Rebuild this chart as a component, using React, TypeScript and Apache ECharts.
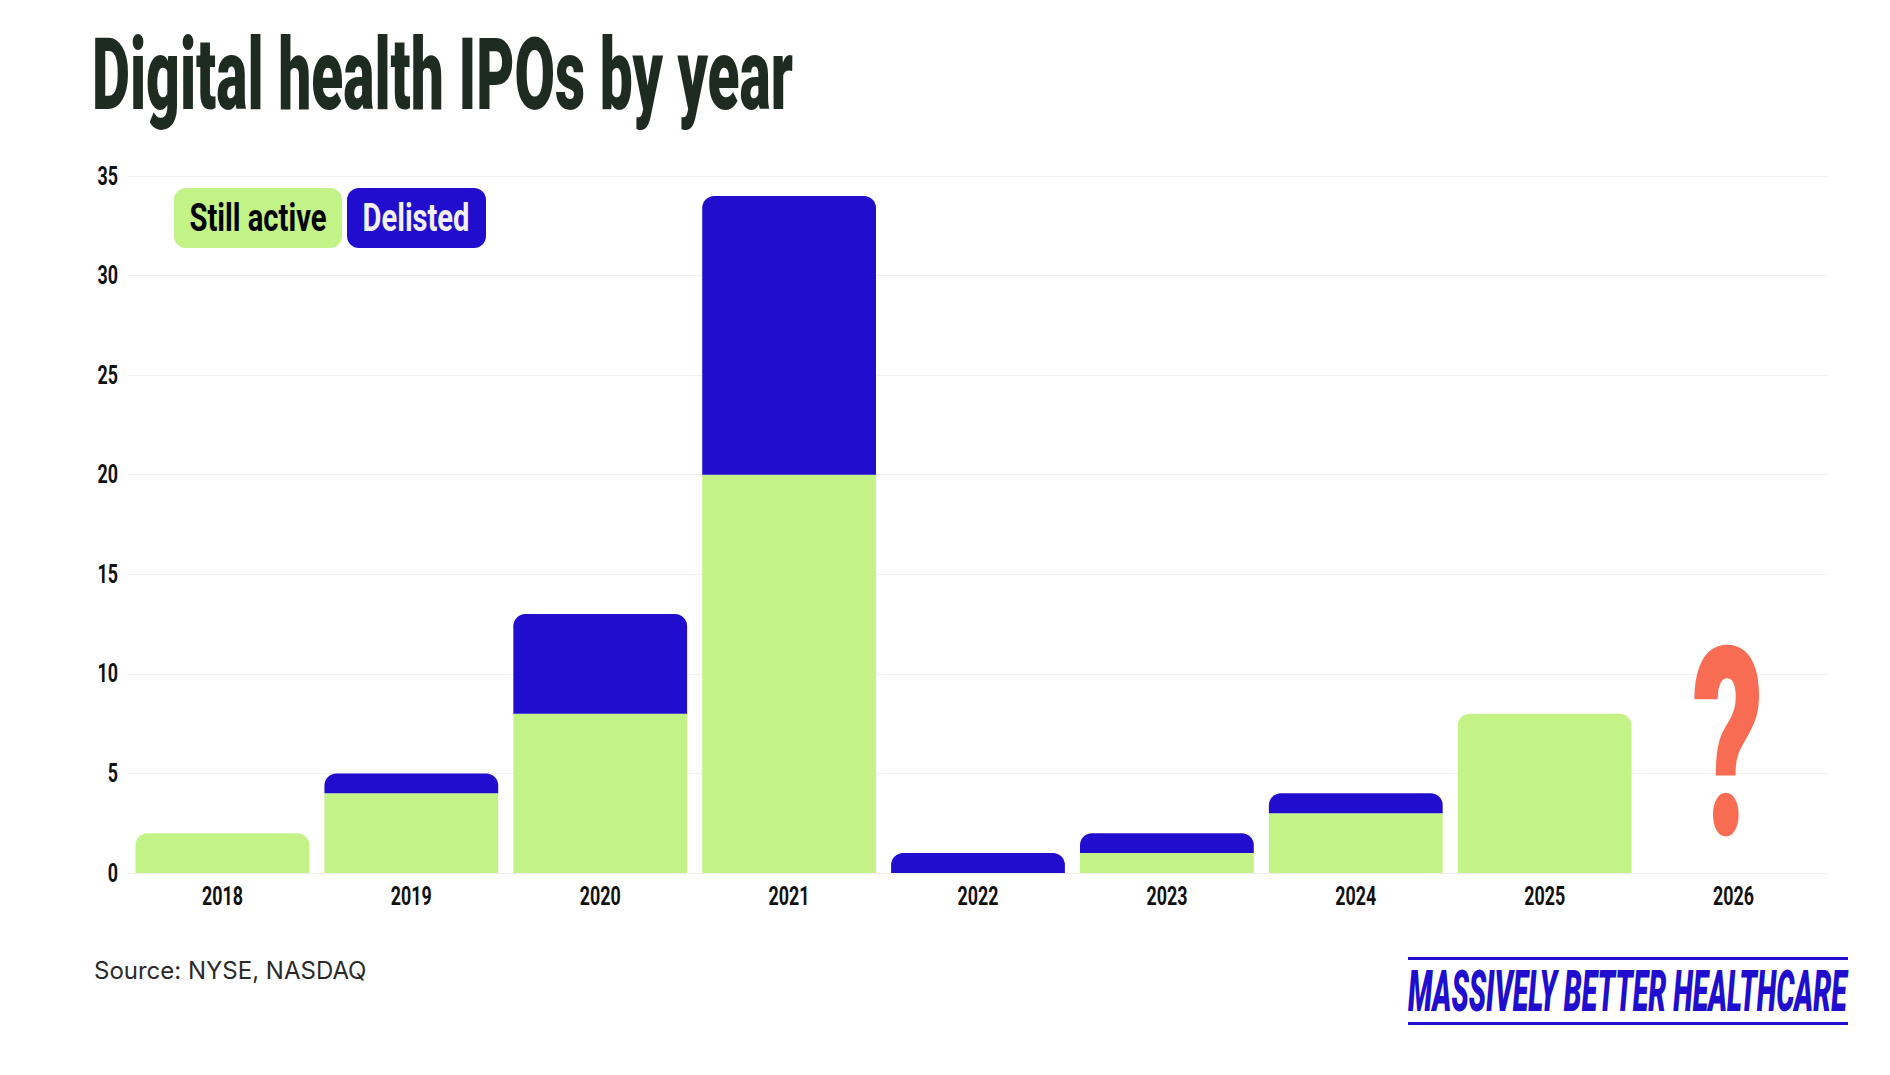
import React, { useEffect, useRef } from "react";
import * as echarts from "echarts";

// IPO counts per listing year, split by current status
const years = ["2018", "2019", "2020", "2021", "2022", "2023", "2024", "2025", "2026"];
const stillActive = [2, 4, 8, 20, 0, 1, 3, 8, 0];
const delisted = [0, 1, 5, 14, 1, 1, 1, 0, 0];
const yTicks = [0, 5, 10, 15, 20, 25, 30, 35];

const GREEN = "#C3F286";
const BLUE = "#200DCE";
const INK = "#1E2B20";
const CORAL = "#F86C53";

const measureCtx = document.createElement("canvas").getContext("2d")!;
function textWidth(text: string, font: string) {
  measureCtx.font = font;
  return measureCtx.measureText(text).width;
}
// horizontal squeeze so a string spans a given width (condensed display look)
function squeeze(text: string, weight: string | number, size: number, family: string, target: number, style = "normal") {
  return target / textWidth(text, `${style} ${weight} ${size}px ${family}`);
}

export default function App() {
  const ref = useRef<HTMLDivElement>(null);

  useEffect(() => {
    if (!ref.current) return;
    const chart = echarts.init(ref.current, null, { renderer: "svg" });

    const R = 12;
    const activeData = stillActive.map((v, i) => ({
      value: v,
      itemStyle: { borderRadius: delisted[i] > 0 ? 0 : [R, R, 0, 0] },
    }));
    const delistedData = delisted.map((v) => (v > 0 ? { value: v, itemStyle: { borderRadius: [R, R, 0, 0] } } : "-"));

    chart.setOption({
      animation: false,
      backgroundColor: "#ffffff",
      grid: { left: 128, right: 62, top: 176, bottom: 202 },
      xAxis: {
        type: "category",
        data: years,
        axisTick: { show: false },
        axisLine: { lineStyle: { color: "#eeeeee", width: 1 } },
        // labels are drawn condensed below, at the axis' own positions
        axisLabel: { show: false },
      },
      yAxis: {
        type: "value",
        min: yTicks[0],
        max: yTicks[yTicks.length - 1],
        interval: yTicks[1] - yTicks[0],
        axisLine: { show: false },
        axisTick: { show: false },
        splitLine: { lineStyle: { color: "#f0f0f0", width: 1 } },
        axisLabel: { show: false },
      },
      series: [
        {
          name: "Still active",
          type: "bar",
          stack: "ipos",
          barCategoryGap: "8%",
          itemStyle: { color: GREEN },
          data: activeData,
        },
        {
          name: "Delisted",
          type: "bar",
          stack: "ipos",
          barCategoryGap: "8%",
          itemStyle: { color: BLUE },
          data: delistedData,
        },
      ],
    });

    const titleText = "Digital health IPOs by year";
    const titleScale = squeeze(titleText, 900, 100, "Roboto", 701);
    const logoText = "MASSIVELY BETTER HEALTHCARE";
    const logoScale = squeeze(logoText, 900, 57, "Roboto", 439, "italic");
    const saScale = squeeze("Still active", 700, 38, "Roboto", 137);
    const dlScale = squeeze("Delisted", 700, 38, "Roboto", 107);
    const qScale = squeeze("?", 900, 262, "Roboto", 71);
    const tickScale = squeeze("2018", 700, 25, "Roboto", 41);

    const tickStyle = { fill: "#111111", fontFamily: "Roboto", fontWeight: 700, fontSize: 25, verticalAlign: "middle" };
    const y0 = chart.convertToPixel({ yAxisIndex: 0 }, 0) as number;
    const gridLeft = chart.convertToPixel({ xAxisIndex: 0 }, years[0]) as number;
    const bandHalf = ((chart.convertToPixel({ xAxisIndex: 0 }, years[1]) as number) - gridLeft) / 2;

    const xLabels = years.map((yr) => ({
      type: "text",
      x: chart.convertToPixel({ xAxisIndex: 0 }, yr) as number,
      y: y0 + 23,
      scaleX: tickScale,
      style: { ...tickStyle, text: yr, align: "center" },
    }));
    const yLabels = yTicks.map((t) => ({
      type: "text",
      x: gridLeft - bandHalf - 10,
      y: chart.convertToPixel({ yAxisIndex: 0 }, t) as number,
      scaleX: tickScale,
      style: { ...tickStyle, text: String(t), align: "right" },
    }));

    chart.setOption({
      graphic: [
        ...xLabels,
        ...yLabels,
        {
          type: "text",
          x: 92,
          y: 75,
          scaleX: titleScale,
          style: { text: titleText, fill: INK, fontFamily: "Roboto", fontWeight: 900, fontSize: 100, verticalAlign: "middle", align: "left" },
        },
        // legend chips
        { type: "rect", shape: { x: 174, y: 188, width: 168, height: 60, r: 12 }, style: { fill: GREEN } },
        {
          type: "text",
          x: 258,
          y: 218,
          scaleX: saScale,
          style: { text: "Still active", fill: "#000000", fontFamily: "Roboto", fontWeight: 700, fontSize: 38, verticalAlign: "middle", align: "center" },
        },
        { type: "rect", shape: { x: 347, y: 188, width: 139, height: 60, r: 12 }, style: { fill: BLUE } },
        {
          type: "text",
          x: 416,
          y: 218,
          scaleX: dlScale,
          style: { text: "Delisted", fill: "#F2F0F5", fontFamily: "Roboto", fontWeight: 700, fontSize: 38, verticalAlign: "middle", align: "center" },
        },
        // open year marker
        {
          type: "text",
          x: 1728,
          y: 745,
          scaleX: qScale,
          style: { text: "?", fill: CORAL, fontFamily: "Roboto", fontWeight: 900, fontSize: 264, verticalAlign: "middle", align: "center" },
        },
        {
          type: "text",
          x: 94,
          y: 970,
          style: { text: "Source: NYSE, NASDAQ", fill: "#2A2A2A", fontFamily: "Inter", fontWeight: 400, fontSize: 24, verticalAlign: "middle", align: "left" },
        },
        // brand mark
        { type: "rect", shape: { x: 1408, y: 957, width: 440, height: 3 }, style: { fill: BLUE } },
        { type: "rect", shape: { x: 1408, y: 1022, width: 440, height: 3 }, style: { fill: BLUE } },
        {
          type: "text",
          x: 1408,
          y: 991,
          scaleX: logoScale,
          style: { text: logoText, fill: BLUE, fontFamily: "Roboto", fontWeight: 900, fontStyle: "italic", fontSize: 57, verticalAlign: "middle", align: "left" },
        },
      ],
    });

    return () => chart.dispose();
  }, []);

  return <div ref={ref} style={{ position: "absolute", left: 0, top: 0, width: 1890, height: 1075 }} />;
}
